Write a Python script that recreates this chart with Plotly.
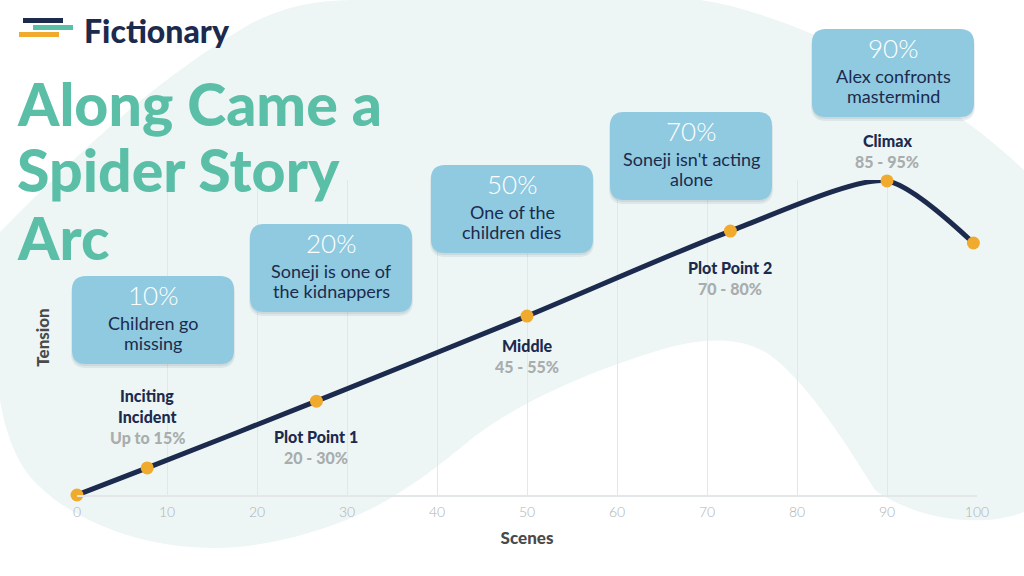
import plotly.graph_objects as go

# ---------------- data ----------------
scenes = [0, 7.8, 26.6, 50, 72.6, 90, 99.6]
tension = [0, 8.6, 29.8, 56.8, 83.8, 99.7, 80.0]

beat_point = [1, 2, 3, 4, 5]
beat_names = ["Inciting<br>Incident", "Plot Point 1", "Middle", "Plot Point 2", "Climax"]
beat_ranges = ["Up to 15%", "20 - 30%", "45 - 55%", "70 - 80%", "85 - 95%"]

box_pcts = ["10%", "20%", "50%", "70%", "90%"]
box_texts = ["Children go<br>missing", "Soneji is one of<br>the kidnappers",
             "One of the<br>children dies", "Soneji isn't acting<br>alone",
             "Alex confronts<br>mastermind"]

x_ticks = [0, 10, 20, 30, 40, 50, 60, 70, 80, 90, 100]
title_lines = ["Along Came a", "Spider Story", "Arc"]
brand = "Fictionary"

# ---------------- layout geometry (pixels) ----------------
W, H = 1024, 576
L, R, T, B = 77, 977, 180, 495


def px(x):
    return (x - L) / (R - L)


def py(y):
    return (B - y) / (B - T)


def pt(x, y):
    return f"{px(x):.5f},{py(y):.5f}"


def rrect(x0, y0, x1, y1, r):
    return (f"M {pt(x0 + r, y0)} L {pt(x1 - r, y0)} Q {pt(x1, y0)} {pt(x1, y0 + r)} "
            f"L {pt(x1, y1 - r)} Q {pt(x1, y1)} {pt(x1 - r, y1)} "
            f"L {pt(x0 + r, y1)} Q {pt(x0, y1)} {pt(x0, y1 - r)} "
            f"L {pt(x0, y0 + r)} Q {pt(x0, y0)} {pt(x0 + r, y0)} Z")


NAVY = "#1c2a4d"
MINT = "#edf6f5"
BOX = "#8fcae0"
GOLD = "#f0aa2e"
GREY = "#a9adad"
TEAL = "#5bbfa8"
FONT = "Lato"

fig = go.Figure()
fig.add_trace(go.Scatter(
    x=scenes, y=tension, mode="lines+markers",
    line=dict(color=NAVY, width=5, shape="spline", smoothing=0.7),
    marker=dict(size=13, color=GOLD),
    cliponaxis=False, hoverinfo="skip", showlegend=False,
))

shapes = []
# background mint blob
mint_path = (
    f"M {pt(0, 232)} C {pt(70, 162)} {pt(150, 82)} {pt(250, 24)} "
    f"C {pt(290, 4)} {pt(320, 0)} {pt(360, 0)} L {pt(700, 0)} "
    f"C {pt(730, 4)} {pt(760, 14)} {pt(790, 25)} "
    f"C {pt(880, 60)} {pt(960, 110)} {pt(1024, 170)} "
    f"L {pt(1024, 512)} C {pt(1000, 522)} {pt(960, 524)} {pt(920, 512)} "
    f"C {pt(900, 505)} {pt(885, 498)} {pt(875, 490)} "
    f"C {pt(850, 450)} {pt(810, 385)} {pt(770, 355)} "
    f"C {pt(740, 335)} {pt(700, 338)} {pt(660, 350)} "
    f"C {pt(600, 368)} {pt(520, 400)} {pt(470, 440)} "
    f"C {pt(440, 465)} {pt(420, 480)} {pt(400, 492)} "
    f"C {pt(360, 520)} {pt(280, 548)} {pt(215, 548)} "
    f"C {pt(140, 548)} {pt(70, 520)} {pt(33, 480)} "
    f"C {pt(15, 460)} {pt(5, 430)} {pt(0, 400)} Z"
)
shapes.append(dict(type="path", xref="paper", yref="paper", path=mint_path,
                   fillcolor=MINT, line=dict(width=0), layer="below"))

# logo bars
for (x0, x1, y0, y1, c) in [(23, 63, 18, 23, NAVY), (33, 73, 25, 30, TEAL), (19, 59, 32, 37, GOLD)]:
    shapes.append(dict(type="rect", xref="paper", yref="paper",
                       x0=px(x0), x1=px(x1), y0=py(y1), y1=py(y0),
                       fillcolor=c, line=dict(width=0), layer="above"))

# boxes
box_x0 = [72, 250, 431, 610, 812]
box_y0 = [276, 224, 165, 112, 29]
BW, BH = 162, 88
annotations = []
for i in range(len(box_pcts)):
    x0, y0 = box_x0[i], box_y0[i]
    shapes.append(dict(type="path", xref="paper", yref="paper",
                       path=rrect(x0 - 1, y0 + 2, x0 + BW + 1, y0 + BH + 4, 15),
                       fillcolor="rgba(70,100,120,0.10)", line=dict(width=0), layer="above"))
    shapes.append(dict(type="path", xref="paper", yref="paper",
                       path=rrect(x0, y0 + 1, x0 + BW, y0 + BH + 2, 14),
                       fillcolor="rgba(70,100,120,0.10)", line=dict(width=0), layer="above"))
    shapes.append(dict(type="path", xref="paper", yref="paper",
                       path=rrect(x0, y0, x0 + BW, y0 + BH, 14),
                       fillcolor=BOX, line=dict(width=0), layer="above"))
    cx = x0 + BW / 2
    annotations.append(dict(x=px(cx), y=py(y0 + 19), xref="paper", yref="paper",
                            text=box_pcts[i], showarrow=False, xanchor="center", yanchor="middle",
                            font=dict(family=FONT, size=26, color="white", weight=300)))
    lines = box_texts[i].split("<br>")
    for j, ln in enumerate(lines):
        annotations.append(dict(x=px(cx), y=py(y0 + 47 + 20 * j), xref="paper", yref="paper",
                                text=ln, showarrow=False, xanchor="center", yanchor="middle",
                                font=dict(family=FONT, size=18, color=NAVY, weight=400)))

# beat labels (relative to data points): one annotation per text line
name_shift = [72, -35, -29, -36, 40]
range_shift = [30, -56, -50, -57, 19]
LINE_GAP = 21
for k, idx in enumerate(beat_point):
    for j, ln in enumerate(beat_names[k].split("<br>")):
        annotations.append(dict(x=scenes[idx], y=tension[idx], xref="x", yref="y",
                                text=ln, showarrow=False,
                                xanchor="center", yanchor="middle",
                                yshift=name_shift[k] - LINE_GAP * j,
                                font=dict(family=FONT, size=16, color=NAVY, weight=900)))
    annotations.append(dict(x=scenes[idx], y=tension[idx], xref="x", yref="y",
                            text=beat_ranges[k], showarrow=False,
                            xanchor="center", yanchor="middle", yshift=range_shift[k],
                            font=dict(family=FONT, size=16, color=GREY, weight=900)))

# title
for j, tl in enumerate(title_lines):
    annotations.append(dict(x=px(15), y=py(103 + 67 * j), xref="paper", yref="paper",
                            text=tl, showarrow=False, xanchor="left", yanchor="middle",
                            font=dict(family=FONT, size=59, color=TEAL, weight=900)))

# brand
annotations.append(dict(x=px(82), y=py(31), xref="paper", yref="paper",
                        text=brand, showarrow=False, xanchor="left", yanchor="middle",
                        font=dict(family=FONT, size=32, color=NAVY, weight=900)))

fig.update_layout(
    width=W, height=H,
    margin=dict(l=L, r=W - R, t=T, b=H - B, pad=0),
    paper_bgcolor="white", plot_bgcolor="rgba(0,0,0,0)",
    shapes=shapes, annotations=annotations,
    showlegend=False,
    xaxis=dict(range=[0, 100], tickvals=x_ticks, showgrid=True, gridcolor="#e3e7e7", gridwidth=1,
               zeroline=False, showline=True, linecolor="#e3e7e7", linewidth=1.5, ticks="",
               ticklabelstandoff=3,
               tickfont=dict(family=FONT, size=14, color="#adb2b2", weight=300),
               title=dict(text="Scenes", standoff=14,
                          font=dict(family=FONT, size=17, color="#4a4a4a", weight=900))),
    yaxis=dict(range=[0, 100], showgrid=False, zeroline=False, showticklabels=False, ticks="",
               title=dict(text="Tension", standoff=22,
                          font=dict(family=FONT, size=17, color="#4a4a4a", weight=900))),
)

fig.write_html("out.html", config={"displayModeBar": False},
               post_script="document.body.style.margin='0';")
